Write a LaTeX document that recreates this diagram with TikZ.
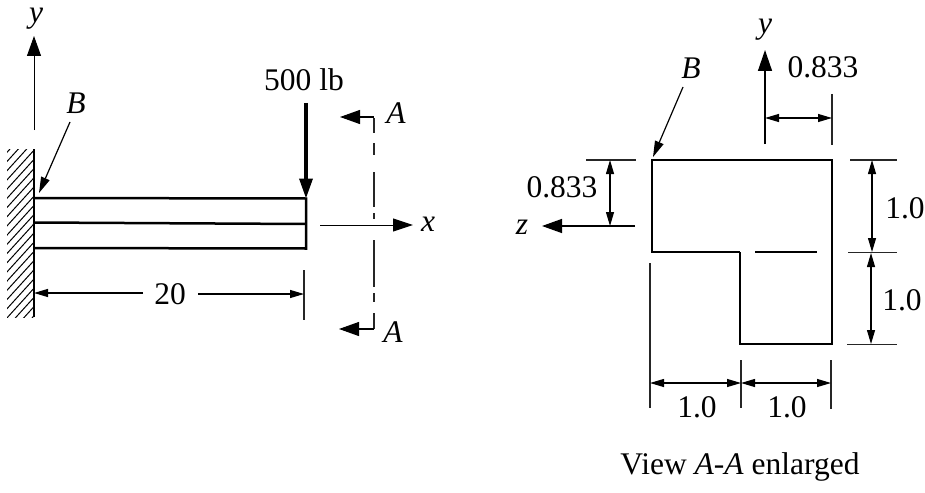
\documentclass[tikz,border=0pt]{standalone}
\usepackage{fontspec}
\setmainfont{Liberation Serif}
\usetikzlibrary{arrows.meta,patterns}
\tikzset{
 thinln/.style={line width=1.1pt,black!85},
 body/.style={line width=2.5pt,black,line join=miter},
 bigarrow/.style={line width=1.4pt,-{Triangle[length=20pt,width=14pt]}},
 leader/.style={line width=1.2pt,-{Triangle[length=16pt,width=9pt]}},
 dimend/.style={line width=1.1pt,-{Triangle[length=14pt,width=8pt]}},
 dimboth/.style={line width=1.1pt,{Triangle[length=14pt,width=8pt]}-{Triangle[length=14pt,width=8pt]}},
 lbl/.style={inner sep=0pt,font=\fontsize{31.5}{33}\selectfont},
 ilbl/.style={lbl,font=\fontsize{31.5}{33}\selectfont\itshape},
}
\begin{document}
\begin{tikzpicture}[x=1pt,y=-1pt]
\useasboundingbox (0,0) rectangle (925,492);
% --- left view: coordinates
\coordinate (yb) at (34,130); \coordinate (yt) at (34,36);
\coordinate (w1) at (34,149); \coordinate (w2) at (34,317);
\coordinate (bTL) at (34,198); \coordinate (bTR) at (306,198.5);
\coordinate (bML) at (34,222.5); \coordinate (bMR) at (306,224);
\coordinate (bBL) at (34,248); \coordinate (bBR) at (306,248.5);
\coordinate (load) at (306,103);
\coordinate (xb) at (320,225); \coordinate (xt) at (413,225);
\coordinate (bl) at (70,122); \coordinate (bp) at (39,193);
% hatching
\begin{scope}
\clip (7,149) rectangle (34,317);
\foreach \k in {0,...,21} {
 \draw[line width=1pt] (0,{160+\k*9.2}) -- (40,{160+\k*9.2-44});
}
\end{scope}
\draw[line width=2.2pt] (w1) -- (w2);
\draw[bigarrow,line width=1pt] (yb) -- (yt);
\node[ilbl] (ly) at (36,19) {y};
\node[ilbl] (lB) at (76,103) {B};
\draw[leader] (bl) -- (bp);
\draw[body] (bTL) -- (bTR) -- (bBR) -- (bBL);
\draw[body] (bML) -- (bMR);
\draw[line width=3.4pt,-{Triangle[length=20pt,width=13pt]}] (load) -- (bTR);
\node[lbl] (lf) at (304,80) {500 lb};
\draw[line width=1pt,-{Triangle[length=20pt,width=13pt]}] (xb) -- (xt);
\node[ilbl] (lx) at (428,224) {x};
% section line
\coordinate (st) at (374,117); \coordinate (sb) at (374,329);
\coordinate (at) at (340,117); \coordinate (ab) at (339,329);
\foreach \a/\b in {118/133,143/155,172/207,213/219,240/287,293/302,313/329}
 \draw[thinln] (374,\a) -- (374,\b);
\draw[line width=1.1pt,-{Triangle[length=20pt,width=14pt]}] (st) -- (at);
\draw[line width=1.1pt,-{Triangle[length=20pt,width=14pt]}] (sb) -- (ab);
\node[ilbl] (lA1) at (396,113) {A};
\node[ilbl] (lA2) at (393,332) {A};
% dimension 20
\coordinate (de) at (304,270); \coordinate (df) at (304,320);
\draw[thinln] (de) -- (df);
\node[lbl] (l20) at (170,294) {20};
\coordinate (d1) at (143,293); \coordinate (d2) at (198,294);
\coordinate (d1e) at (34,293); \coordinate (d2e) at (304,294);
\draw[dimend] (d1) -- (d1e);
\draw[dimend] (d2) -- (d2e);
% --- right view
\coordinate (P1) at (652,160); \coordinate (P2) at (832,160);
\coordinate (P3) at (832,344); \coordinate (P4) at (740,344);
\coordinate (P5) at (740,252); \coordinate (P6) at (652,252);
\draw[body,line join=miter] (P5) -- (P4) -- (P3) -- (P2) -- (P1) -- (P6) -- (P5);
\draw[line width=1.4pt] (755,252) -- (817,252);
\coordinate (ry) at (765,144); \coordinate (ryt) at (765,50);
\draw[line width=1.4pt,-{Triangle[length=21pt,width=14pt]}] (ry) -- (ryt);
\node[ilbl] (lry) at (765,30) {y};
\node[lbl] (l1) at (823,67) {0.833};
\coordinate (e1a) at (832,94); \coordinate (e1b) at (832,145);
\draw[thinln] (e1a) -- (e1b);
\draw[dimboth] (765,118) -- (832,118);
\node[ilbl] (lrB) at (691,68) {B};
\draw[leader] (683,87) -- (653,157);
% left dims
\draw[thinln] (586,160) -- (636,160);
\draw[line width=1.4pt,-{Triangle[length=20pt,width=14pt]}] (635,226) -- (542,226);
\draw[dimboth] (610,160) -- (610,226);
\node[ilbl] (lz) at (522,227) {z};
\node[lbl] (l2) at (562,187) {0.833};
% right dims
\draw[thinln] (850,160) -- (897,160);
\draw[thinln] (848,252.5) -- (897,252.5);
\draw[thinln] (847,344.5) -- (897,344.5);
\draw[dimboth] (872,160) -- (872,252);
\draw[dimboth] (871,253) -- (871,344);
\node[lbl] (l3) at (905,208) {1.0};
\node[lbl] (l4) at (902,300) {1.0};
% bottom dims
\draw[thinln] (650,263) -- (650,408);
\draw[thinln] (741,360) -- (741,408);
\draw[thinln] (831,360) -- (831,409);
\draw[dimboth] (650,383) -- (741,383);
\draw[dimboth] (741,383) -- (831,383);
\node[lbl] (l5) at (697,407) {1.0};
\node[lbl] (l6) at (787,407) {1.0};
\node[lbl] (cap) at (740,467) {View \textit{A-A} enlarged};
\end{tikzpicture}
\end{document}
